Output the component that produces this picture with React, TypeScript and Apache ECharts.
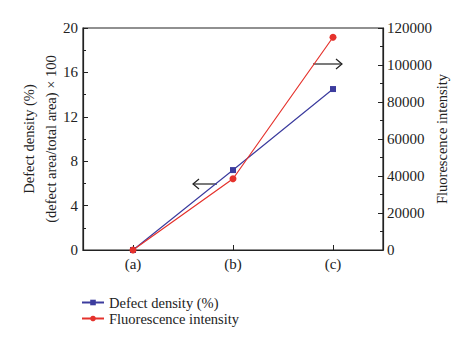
import React, { useEffect, useRef } from "react";
import * as echarts from "echarts";

const categories = ["(a)", "(b)", "(c)"];
const defectDensity = [0, 7.2, 14.5];
const fluorescence = [0, 38500, 115000];
const leftTicks = { min: 0, max: 20, interval: 4 };
const rightTicks = { min: 0, max: 120000, interval: 20000 };

const FONT = "'Liberation Serif', serif";
const BLUE = "#3c3c9e";
const RED = "#e5322c";
const AXIS = "#222";

export default function App() {
  const ref = useRef<HTMLDivElement>(null);
  useEffect(() => {
    if (!ref.current) return;
    const chart = echarts.init(ref.current, undefined, { renderer: "svg" });
    const axisCommon = {
      axisLine: { show: true, lineStyle: { color: AXIS, width: 1.2 } },
      axisTick: { show: true, inside: true, length: 5, lineStyle: { color: AXIS } },
      minorTick: { show: true, splitNumber: 2, length: 3, lineStyle: { color: AXIS } },
      splitLine: { show: false },
      nameMoveOverlap: false,
      nameTextStyle: { color: AXIS, fontFamily: FONT, fontSize: 14.5, lineHeight: 22 },
    };
    chart.setOption({
      animation: false,
      backgroundColor: "#fff",
      textStyle: { fontFamily: FONT },
      grid: {
        left: 83,
        right: 91,
        top: 28,
        bottom: 98,
        show: true,
        borderColor: AXIS,
        borderWidth: 1.2,
        containLabel: false,
        outerBoundsMode: "none",
      },
      legend: {
        orient: "vertical",
        left: 81,
        top: 295,
        padding: 0,
        itemGap: 1,
        itemWidth: 22,
        itemHeight: 7,
        textStyle: { color: AXIS, fontFamily: FONT, fontSize: 14.5, lineHeight: 15 },
        data: ["Defect density (%)", "Fluorescence intensity"],
      },
      xAxis: {
        type: "category",
        data: categories,
        boundaryGap: true,
        axisLine: { show: true, lineStyle: { color: AXIS, width: 1.2 } },
        axisTick: { show: true, inside: true, alignWithLabel: true, length: 5, lineStyle: { color: AXIS } },
        axisLabel: { color: AXIS, fontFamily: FONT, fontSize: 15, margin: 6 },
        splitLine: { show: false },
      },
      yAxis: [
        {
          type: "value",
          position: "left",
          ...leftTicks,
          name: "Defect density (%)\n(defect area/total area) × 100",
          nameLocation: "middle",
          nameRotate: 90,
          nameGap: 21,
          axisLabel: { color: AXIS, fontFamily: FONT, fontSize: 15, margin: 5 },
          ...axisCommon,
        },
        {
          type: "value",
          position: "right",
          ...rightTicks,
          name: "Fluorescence intensity",
          nameLocation: "middle",
          nameRotate: 90,
          nameGap: 48,
          axisLabel: {
            color: AXIS,
            fontFamily: FONT,
            fontSize: 15,
            margin: 4,
            formatter: (v: number) => String(v),
          },
          ...axisCommon,
        },
      ],
      series: [
        {
          name: "Defect density (%)",
          type: "line",
          yAxisIndex: 0,
          data: defectDensity,
          symbol: "rect",
          symbolSize: 6,
          itemStyle: { color: BLUE },
          lineStyle: { color: BLUE, width: 1.2 },
        },
        {
          name: "Fluorescence intensity",
          type: "line",
          yAxisIndex: 1,
          data: fluorescence,
          symbol: "circle",
          symbolSize: 7,
          itemStyle: { color: RED },
          lineStyle: { color: RED, width: 1.2 },
        },
      ],
      graphic: [
        { type: "line", shape: { x1: 193, y1: 184, x2: 217, y2: 184 }, style: { stroke: AXIS, lineWidth: 1.2 } },
        { type: "polyline", shape: { points: [[199, 179], [193, 184], [199, 189]] }, style: { stroke: AXIS, lineWidth: 1.2, fill: null } },
        { type: "line", shape: { x1: 313, y1: 64, x2: 342, y2: 64 }, style: { stroke: AXIS, lineWidth: 1.2 } },
        { type: "polyline", shape: { points: [[336, 59], [342, 64], [336, 69]] }, style: { stroke: AXIS, lineWidth: 1.2, fill: null } },
      ],
    });
    return () => chart.dispose();
  }, []);
  return (
    <div
      ref={ref}
      style={{ position: "fixed", left: 0, top: 0, width: 474, height: 348, background: "#fff" }}
    />
  );
}
